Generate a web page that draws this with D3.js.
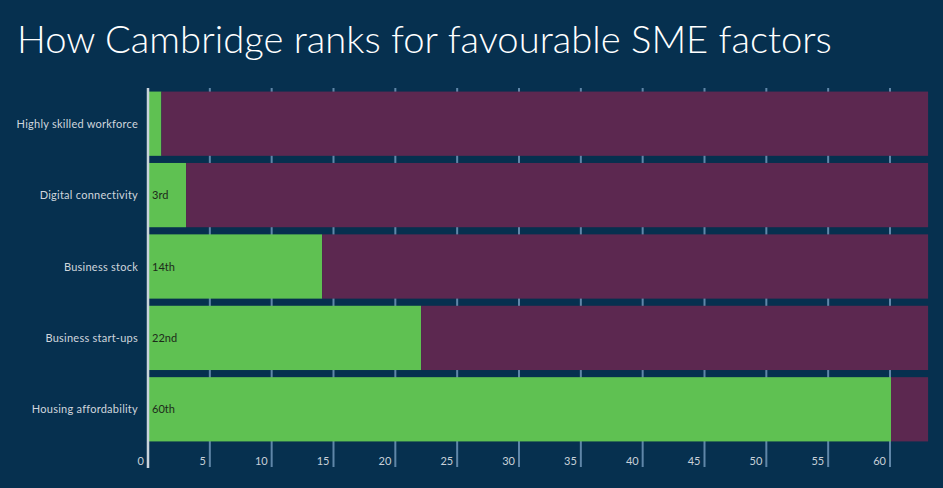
<!DOCTYPE html>
<html><head><meta charset="utf-8">
<script src="https://cdn.jsdelivr.net/npm/d3@7"></script>
<style>
html,body{margin:0;padding:0;background:#06304f;}
svg{display:block;}
</style></head>
<body>
<svg id="chart" width="943" height="488"></svg>
<script>
const categories = ["Highly skilled workforce","Digital connectivity","Business stock","Business start-ups","Housing affordability"];
const ranks = [1,3,14,22,60];
const rankLabels = ["","3rd","14th","22nd","60th"];
const totalAreas = 63;
const tickValues = [0,5,10,15,20,25,30,35,40,45,50,55,60];

const W = 943, H = 488;
const margin = {left:148, right:15, top:88, bottom:43};
const svg = d3.select("#chart");
svg.append("rect").attr("width",W).attr("height",H).attr("fill","#06304f");

svg.append("text").attr("x",17).attr("y",53)
  .attr("font-family","Lato, 'Open Sans', sans-serif").attr("font-weight",300)
  .attr("font-size",38.2).attr("fill","#ffffff")
  .text("How Cambridge ranks for favourable SME factors");

const x = d3.scaleLinear().domain([0,60]).range([margin.left, 890]);
const y = d3.scaleBand().domain(categories).range([margin.top, 445]).paddingInner(0.1).paddingOuter(0.05);

// grid
const grid = svg.append("g");
grid.selectAll("line").data(tickValues.slice(1)).join("line")
  .attr("x1",d=>x(d)).attr("x2",d=>x(d))
  .attr("y1",margin.top).attr("y2",467)
  .attr("stroke","#5f86a8").attr("stroke-width",2);

const rows = svg.append("g").selectAll("g").data(categories).join("g");
rows.append("rect")
  .attr("x",x(0)).attr("y",d=>y(d))
  .attr("width",(d,i)=>x(ranks[i])-x(0)+1).attr("height",y.bandwidth())
  .attr("fill","#5fc152");
rows.append("rect")
  .attr("x",(d,i)=>x(ranks[i])+1).attr("y",d=>y(d))
  .attr("width",(d,i)=>x(totalAreas)-x(ranks[i])).attr("height",y.bandwidth())
  .attr("fill","#5c2850");
rows.append("text")
  .attr("x",x(0)+4).attr("y",d=>y(d)+y.bandwidth()/2+4)
  .attr("font-family","Lato, sans-serif").attr("font-size",11).attr("fill","#1d2a1a")
  .text((d,i)=>rankLabels[i]);

// y labels
svg.append("g").selectAll("text").data(categories).join("text")
  .attr("x",138).attr("y",d=>y(d)+y.bandwidth()/2+4)
  .attr("text-anchor","end")
  .attr("font-family","Lato, sans-serif").attr("font-size",11).attr("letter-spacing",0.25).attr("fill","#d0d6dd")
  .text(d=>d);

// x axis labels
svg.append("g").selectAll("text").data(tickValues).join("text")
  .attr("x",d=>x(d)-4).attr("y",465)
  .attr("text-anchor","end")
  .attr("font-family","Lato, sans-serif").attr("font-size",11).attr("fill","#c8d0d8")
  .text(d=>d);

// axis line
svg.append("line").attr("x1",x(0)).attr("x2",x(0)).attr("y1",margin.top).attr("y2",468)
  .attr("stroke","#c9d3dc").attr("stroke-width",2.5);
</script>
</body></html>
